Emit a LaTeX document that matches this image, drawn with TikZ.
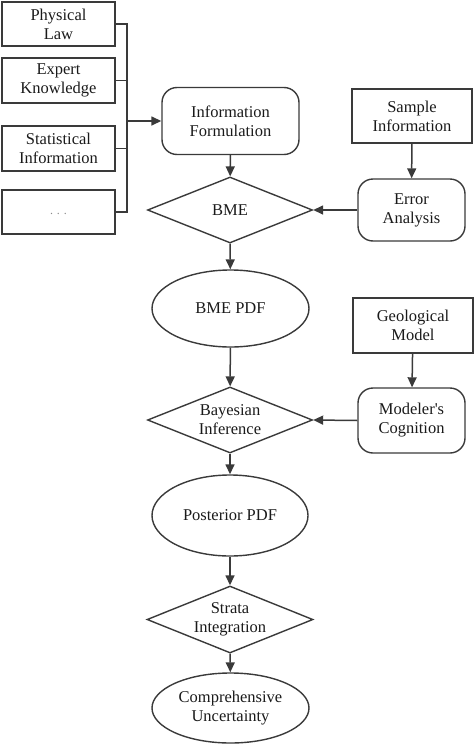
\documentclass[tikz,border=0pt]{standalone}
\usepackage{fontspec}
\setmainfont{Liberation Serif}
\usepackage{xcolor}
\usetikzlibrary{arrows.meta,positioning,shapes.geometric}
\definecolor{ink}{HTML}{1A1A1A}
\definecolor{edge}{HTML}{3A3A3A}
\definecolor{dotgray}{HTML}{8A8A8A}
\newcommand{\flowfont}{\fontsize{16.5}{19}\selectfont}
\tikzset{
  sourcebox/.style={draw=edge,line width=1.5pt,text=ink,
                    minimum width=113pt,minimum height=45pt,
                    align=center,inner sep=0pt,font=\flowfont},
  databox/.style={draw=edge,line width=1.4pt,text=ink,
                  minimum width=120pt,minimum height=55pt,
                  align=center,inner sep=0pt,font=\flowfont},
  stepcard/.style={draw=edge,line width=1.4pt,text=ink,rounded corners=15pt,
                   minimum width=107pt,minimum height=63pt,
                   align=center,inner sep=0pt,font=\flowfont},
  decide/.style={diamond,draw=edge,line width=1.4pt,text=ink,aspect=2.5,
                 minimum width=165pt,minimum height=66pt,
                 align=center,inner sep=0pt,font=\flowfont},
  result/.style={ellipse,draw=edge,line width=1.4pt,text=ink,
                 minimum width=157pt,minimum height=77pt,
                 align=center,inner sep=0pt,font=\flowfont},
  flowarr/.style={-{Triangle[length=10pt,width=9pt]},line width=1.5pt,color=edge},
  joinline/.style={line width=1.5pt,color=edge}
}

\begin{document}
\begin{tikzpicture}[x=1pt,y=-1pt]
  \useasboundingbox (0,0) rectangle (474,747);
  \node[sourcebox,minimum height=44pt] (law) at (58.5,24) {Physical\\Law};
  \node[sourcebox] (expert) at (58.5,80.5) {Expert\\Knowledge};
  \node[sourcebox] (stat) at (58.5,148.5) {Statistical\\Information};
  \node[sourcebox,minimum height=44pt] (more) at (58.5,212)
    {\raisebox{-6pt}{\fontsize{12}{12}\selectfont\color{dotgray}.\,\,.\,\,.}};
  \coordinate (bus) at (127,121);
  \node[stepcard,minimum width=137pt,minimum height=67pt] (info) at (230.5,121) {Information\\Formulation};
  \node[decide] (bme) at (230,210) {BME};
  \node[result] (bmepdf) at (230.5,308.5) {BME PDF};
  \node[decide] (bayes) at (230,420) {Bayesian\\Inference};
  \node[result,minimum width=156pt,minimum height=81pt] (post) at (230,515.5) {Posterior PDF};
  \node[decide,minimum width=166pt,minimum height=67pt] (strata) at (230,619.5) {Strata\\Integration};
  \node[result,minimum height=70pt] (comp) at (230.5,708) {Comprehensive\\Uncertainty};
  \node[databox,minimum height=54pt] (sample) at (412,116) {Sample\\Information};
  \node[stepcard,minimum height=62pt] (error) at (411.5,210) {Error\\Analysis};
  \node[databox] (geo) at (413,325.5) {Geological\\Model};
  \node[stepcard,minimum height=65pt] (cogn) at (411.5,420.5) {Modeler\textquotesingle s\\Cognition};
  \draw[joinline] (law.east) -| (bus);
  \draw[joinline] (expert.east) -| (bus);
  \draw[joinline] (stat.east) -| (bus);
  \draw[joinline] (more.east) -| (bus);
  \draw[flowarr] (bus) -- (info.west);
  \draw[flowarr] (info) -- (bme);
  \draw[flowarr] (bme) -- (bmepdf);
  \draw[flowarr] (bmepdf) -- (bayes);
  \draw[flowarr] (bayes) -- (post);
  \draw[flowarr] (post) -- (strata);
  \draw[flowarr] (strata) -- (comp);
  \draw[flowarr] (sample) -- (error);
  \draw[flowarr] (error.west) -- (bme.east);
  \draw[flowarr] (geo) -- (cogn);
  \draw[flowarr] (cogn.west) -- (bayes.east);
\end{tikzpicture}
\end{document}
